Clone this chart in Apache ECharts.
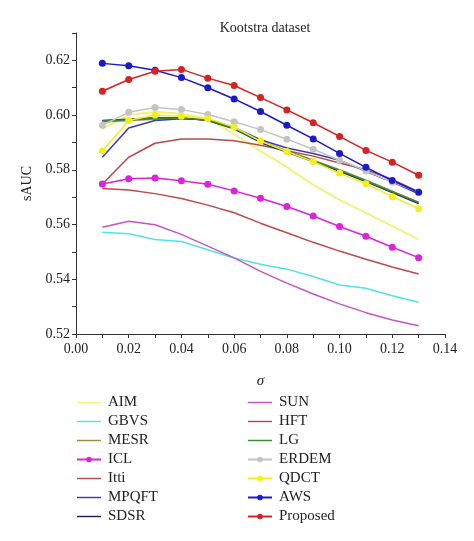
<!DOCTYPE html>
<html>
<head>
<meta charset="utf-8">
<script src="https://cdn.jsdelivr.net/npm/echarts@6/dist/echarts.min.js"></script>
<style>
  html, body { margin: 0; padding: 0; background: #fff; }
  #chart { width: 474px; height: 541px; }
</style>
</head>
<body>
<div id="chart"></div>
<script>
var sigma = [0.01, 0.02, 0.03, 0.04, 0.05, 0.06, 0.07, 0.08, 0.09, 0.10, 0.11, 0.12, 0.13];

var aim = [0.5950, 0.6000, 0.6012, 0.6005, 0.5987, 0.5930, 0.5868, 0.5810, 0.5745, 0.5690, 0.5643, 0.5594, 0.5546];
var gbvs = [0.5572, 0.5566, 0.5545, 0.5538, 0.5508, 0.5478, 0.5455, 0.5437, 0.5410, 0.5379, 0.5367, 0.5340, 0.5316];
var mesr = [0.5975, 0.5980, 0.5985, 0.5988, 0.5982, 0.5955, 0.5905, 0.5870, 0.5835, 0.5800, 0.5762, 0.5722, 0.5682];
var icl = [0.5748, 0.5767, 0.5770, 0.5760, 0.5747, 0.5723, 0.5696, 0.5666, 0.5631, 0.5593, 0.5557, 0.5517, 0.5479];
var itti = [0.5748, 0.5846, 0.5897, 0.5913, 0.5913, 0.5906, 0.5890, 0.5870, 0.5850, 0.5825, 0.5800, 0.5765, 0.5720];
var mpqft = [0.5846, 0.5953, 0.5980, 0.5987, 0.5985, 0.5955, 0.5910, 0.5880, 0.5860, 0.5835, 0.5795, 0.5755, 0.5712];
var sdsr = [0.5980, 0.5985, 0.5990, 0.5990, 0.5980, 0.5950, 0.5900, 0.5865, 0.5830, 0.5795, 0.5757, 0.5717, 0.5677];
var sun = [0.5590, 0.5612, 0.5599, 0.5564, 0.5521, 0.5478, 0.5429, 0.5386, 0.5346, 0.5310, 0.5278, 0.5251, 0.5230];
var hft = [0.5732, 0.5726, 0.5713, 0.5695, 0.5671, 0.5643, 0.5605, 0.5570, 0.5535, 0.5503, 0.5473, 0.5445, 0.5419];
var lg = [0.5978, 0.5983, 0.5988, 0.5989, 0.5981, 0.5952, 0.5903, 0.5868, 0.5833, 0.5798, 0.5760, 0.5720, 0.5680];
var erdem = [0.5963, 0.6010, 0.6028, 0.6020, 0.6002, 0.5976, 0.5947, 0.5912, 0.5875, 0.5835, 0.5796, 0.5755, 0.5720];
var qdct = [0.5869, 0.5980, 0.6000, 0.5996, 0.5987, 0.5956, 0.5905, 0.5867, 0.5830, 0.5788, 0.5749, 0.5702, 0.5658];
var aws = [0.6189, 0.6180, 0.6164, 0.6137, 0.6100, 0.6059, 0.6013, 0.5963, 0.5913, 0.5860, 0.5809, 0.5761, 0.5718];
var proposed = [0.6087, 0.6130, 0.6160, 0.6167, 0.6135, 0.6108, 0.6064, 0.6019, 0.5972, 0.5922, 0.5871, 0.5828, 0.5780];

var xTicks = [0, 0.14, 0.01];
var yTicks = [0.52, 0.63, 0.01];

var font = "'Liberation Serif', 'DejaVu Serif', serif";
// plain line icon for series without markers
var lineIcon = "path://M0,0H25V1.5H0Z";

function pairs(arr) {
  return sigma.map(function (s, i) { return [s, arr[i]]; });
}

function line(name, data, color, width, marker) {
  return {
    name: name,
    type: "line",
    data: pairs(data),
    symbol: marker ? "circle" : "none",
    symbolSize: 7,
    showSymbol: !!marker,
    lineStyle: { color: color, width: width },
    itemStyle: { color: color, borderWidth: 0 },
    emphasis: { disabled: true },
    animation: false,
  };
}

function legendItems(names, markers) {
  return names.map(function (n) {
    return markers.indexOf(n) >= 0 ? { name: n } : { name: n, icon: lineIcon };
  });
}

var markerNames = ["ICL", "ERDEM", "QDCT", "AWS", "Proposed"];

var chart = echarts.init(document.getElementById("chart"));

var legendBase = {
  orient: "vertical",
  padding: 0,
  itemWidth: 24,
  itemHeight: 7,
  itemGap: 4,
  textStyle: { fontFamily: font, fontSize: 15, color: "#222", padding: [0, 0, 0, 2] },
};

var option = {
  backgroundColor: "#fff",
  title: {
    text: "Kootstra dataset",
    left: 260,
    top: 16,
    textAlign: "center",
    textStyle: { fontFamily: font, fontSize: 14, fontWeight: "normal", color: "#222" },
  },
  legend: [
    Object.assign({}, legendBase, {
      left: 76,
      top: 395,
      data: legendItems(["AIM", "GBVS", "MESR", "ICL", "Itti", "MPQFT", "SDSR"], markerNames),
    }),
    Object.assign({}, legendBase, {
      left: 247,
      top: 395,
      data: legendItems(["SUN", "HFT", "LG", "ERDEM", "QDCT", "AWS", "Proposed"], markerNames),
    }),
  ],
  grid: { left: 76, right: 29, top: 33, bottom: 207 },
  xAxis: {
    type: "value",
    min: xTicks[0],
    max: xTicks[1],
    interval: xTicks[2],
    name: "σ",
    nameLocation: "middle",
    nameGap: 40,
    nameTextStyle: { fontFamily: font, fontSize: 15, fontStyle: "italic", color: "#222" },
    axisLine: { lineStyle: { color: "#333", width: 1 } },
    axisTick: { length: 4, lineStyle: { color: "#333" } },
    axisLabel: {
      fontFamily: font,
      fontSize: 14,
      color: "#222",
      margin: 8,
      formatter: function (v) {
        return Math.round(v * 100) % 2 === 0 ? v.toFixed(2) : "";
      },
    },
    splitLine: { show: false },
  },
  yAxis: {
    type: "value",
    min: yTicks[0],
    max: yTicks[1],
    interval: yTicks[2],
    name: "sAUC",
    nameLocation: "middle",
    nameGap: 42,
    nameTextStyle: { fontFamily: font, fontSize: 14, color: "#222" },
    axisLine: { show: true, lineStyle: { color: "#333", width: 1 } },
    axisTick: { show: true, length: 4, lineStyle: { color: "#333" } },
    axisLabel: {
      fontFamily: font,
      fontSize: 14,
      color: "#222",
      margin: 6,
      formatter: function (v) {
        return Math.round(v * 100) % 2 === 0 && v < 0.625 ? v.toFixed(2) : "";
      },
    },
    splitLine: { show: false },
  },
  series: [
    line("AIM", aim, "#f4f27a", 2),
    line("GBVS", gbvs, "#4fe3e3", 1.5),
    line("MESR", mesr, "#9a8c44", 1.5),
    line("ICL", icl, "#dd22dd", 1.5, true),
    line("Itti", itti, "#b84a4a", 1.5),
    line("MPQFT", mpqft, "#3c3cb0", 1.5),
    line("SDSR", sdsr, "#1e1e5e", 1.5),
    line("SUN", sun, "#c455c4", 1.5),
    line("HFT", hft, "#c04848", 1.5),
    line("LG", lg, "#3d8a3d", 1.5),
    line("ERDEM", erdem, "#c4c4c4", 1.5, true),
    line("QDCT", qdct, "#f2f01a", 1.5, true),
    line("AWS", aws, "#1a1acc", 1.5, true),
    line("Proposed", proposed, "#d62222", 1.5, true),
  ],
};

chart.setOption(option);
window.addEventListener("resize", function () {
  chart.resize();
});
</script>
</body>
</html>
